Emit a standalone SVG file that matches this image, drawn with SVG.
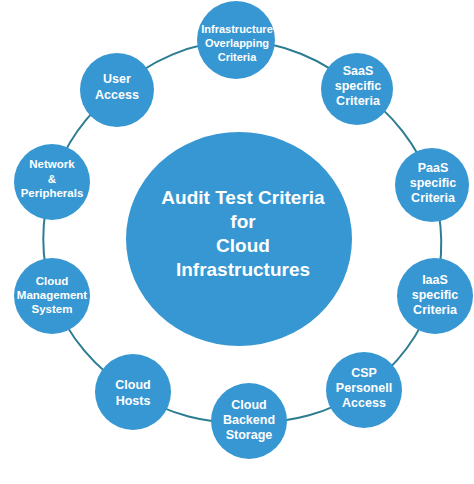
<svg xmlns="http://www.w3.org/2000/svg" width="474" height="484" viewBox="0 0 474 484">
<style>
.node{fill:#3797d3}
.conn{fill:none;stroke:#2b7d92;stroke-width:2}
.t{font-family:"Liberation Sans",Arial,sans-serif;font-weight:bold;fill:#ffffff;text-anchor:middle;font-size:12.5px}
.ts{font-size:11px}
.tm{font-size:11.5px}
.tc{font-size:19px}
</style>
<rect width="474" height="484" fill="#ffffff"/>
<g id="connectors">
<path class="conn" d="M236,40 A191,193 0 0 1 357,89"/>
<path class="conn" d="M357,89 A191,193 0 0 1 432,185"/>
<path class="conn" d="M432,185 A191,193 0 0 1 434,296"/>
<path class="conn" d="M434,296 A191,193 0 0 1 364,390"/>
<path class="conn" d="M364,390 A191,193 0 0 1 249,422"/>
<path class="conn" d="M249,422 A191,193 0 0 1 133,392"/>
<path class="conn" d="M133,392 A191,193 0 0 1 52,296"/>
<path class="conn" d="M52,296 A191,193 0 0 1 52,182"/>
<path class="conn" d="M52,182 A191,193 0 0 1 117,90"/>
<path class="conn" d="M117,90 A191,193 0 0 1 236,40"/>
</g>
<g id="center">
<ellipse class="node" cx="239" cy="239" rx="113" ry="107"/>
<text class="t tc" x="243" y="204">Audit Test Criteria</text>
<text class="t tc" x="243" y="228">for</text>
<text class="t tc" x="243" y="252">Cloud</text>
<text class="t tc" x="243" y="276">Infrastructures</text>
</g>
<g id="infra">
<circle class="node" cx="236" cy="40" r="39"/>
<text class="t ts" x="237" y="33">Infrastructure</text>
<text class="t ts" x="237" y="47">Overlapping</text>
<text class="t ts" x="237" y="61">Criteria</text>
</g>
<g id="saas">
<circle class="node" cx="357" cy="89" r="36"/>
<text class="t" x="358" y="75">SaaS</text>
<text class="t" x="358" y="90">specific</text>
<text class="t" x="358" y="105">Criteria</text>
</g>
<g id="paas">
<circle class="node" cx="432" cy="185" r="37"/>
<text class="t" x="433" y="172">PaaS</text>
<text class="t" x="433" y="187">specific</text>
<text class="t" x="433" y="202">Criteria</text>
</g>
<g id="iaas">
<circle class="node" cx="435" cy="296" r="38"/>
<text class="t" x="435" y="284">IaaS</text>
<text class="t" x="435" y="299">specific</text>
<text class="t" x="435" y="314">Criteria</text>
</g>
<g id="csp">
<circle class="node" cx="364" cy="390" r="38"/>
<text class="t" x="364" y="377">CSP</text>
<text class="t" x="364" y="392">Personell</text>
<text class="t" x="364" y="407">Access</text>
</g>
<g id="backend">
<circle class="node" cx="249" cy="421" r="38"/>
<text class="t" x="249" y="409">Cloud</text>
<text class="t" x="249" y="424">Backend</text>
<text class="t" x="249" y="439">Storage</text>
</g>
<g id="hosts">
<circle class="node" cx="133" cy="392" r="38"/>
<text class="t" x="133" y="389">Cloud</text>
<text class="t" x="133" y="405">Hosts</text>
</g>
<g id="cms">
<circle class="node" cx="52" cy="296" r="38"/>
<text class="t tm" x="52" y="285">Cloud</text>
<text class="t tm" x="52" y="299">Management</text>
<text class="t tm" x="52" y="313">System</text>
</g>
<g id="network">
<circle class="node" cx="52" cy="182" r="38"/>
<text class="t tm" x="52" y="168">Network</text>
<text class="t tm" x="52" y="183">&amp;</text>
<text class="t tm" x="52" y="197">Peripherals</text>
</g>
<g id="user">
<circle class="node" cx="117" cy="90" r="37"/>
<text class="t" x="117" y="83">User</text>
<text class="t" x="117" y="99">Access</text>
</g>
</svg>
